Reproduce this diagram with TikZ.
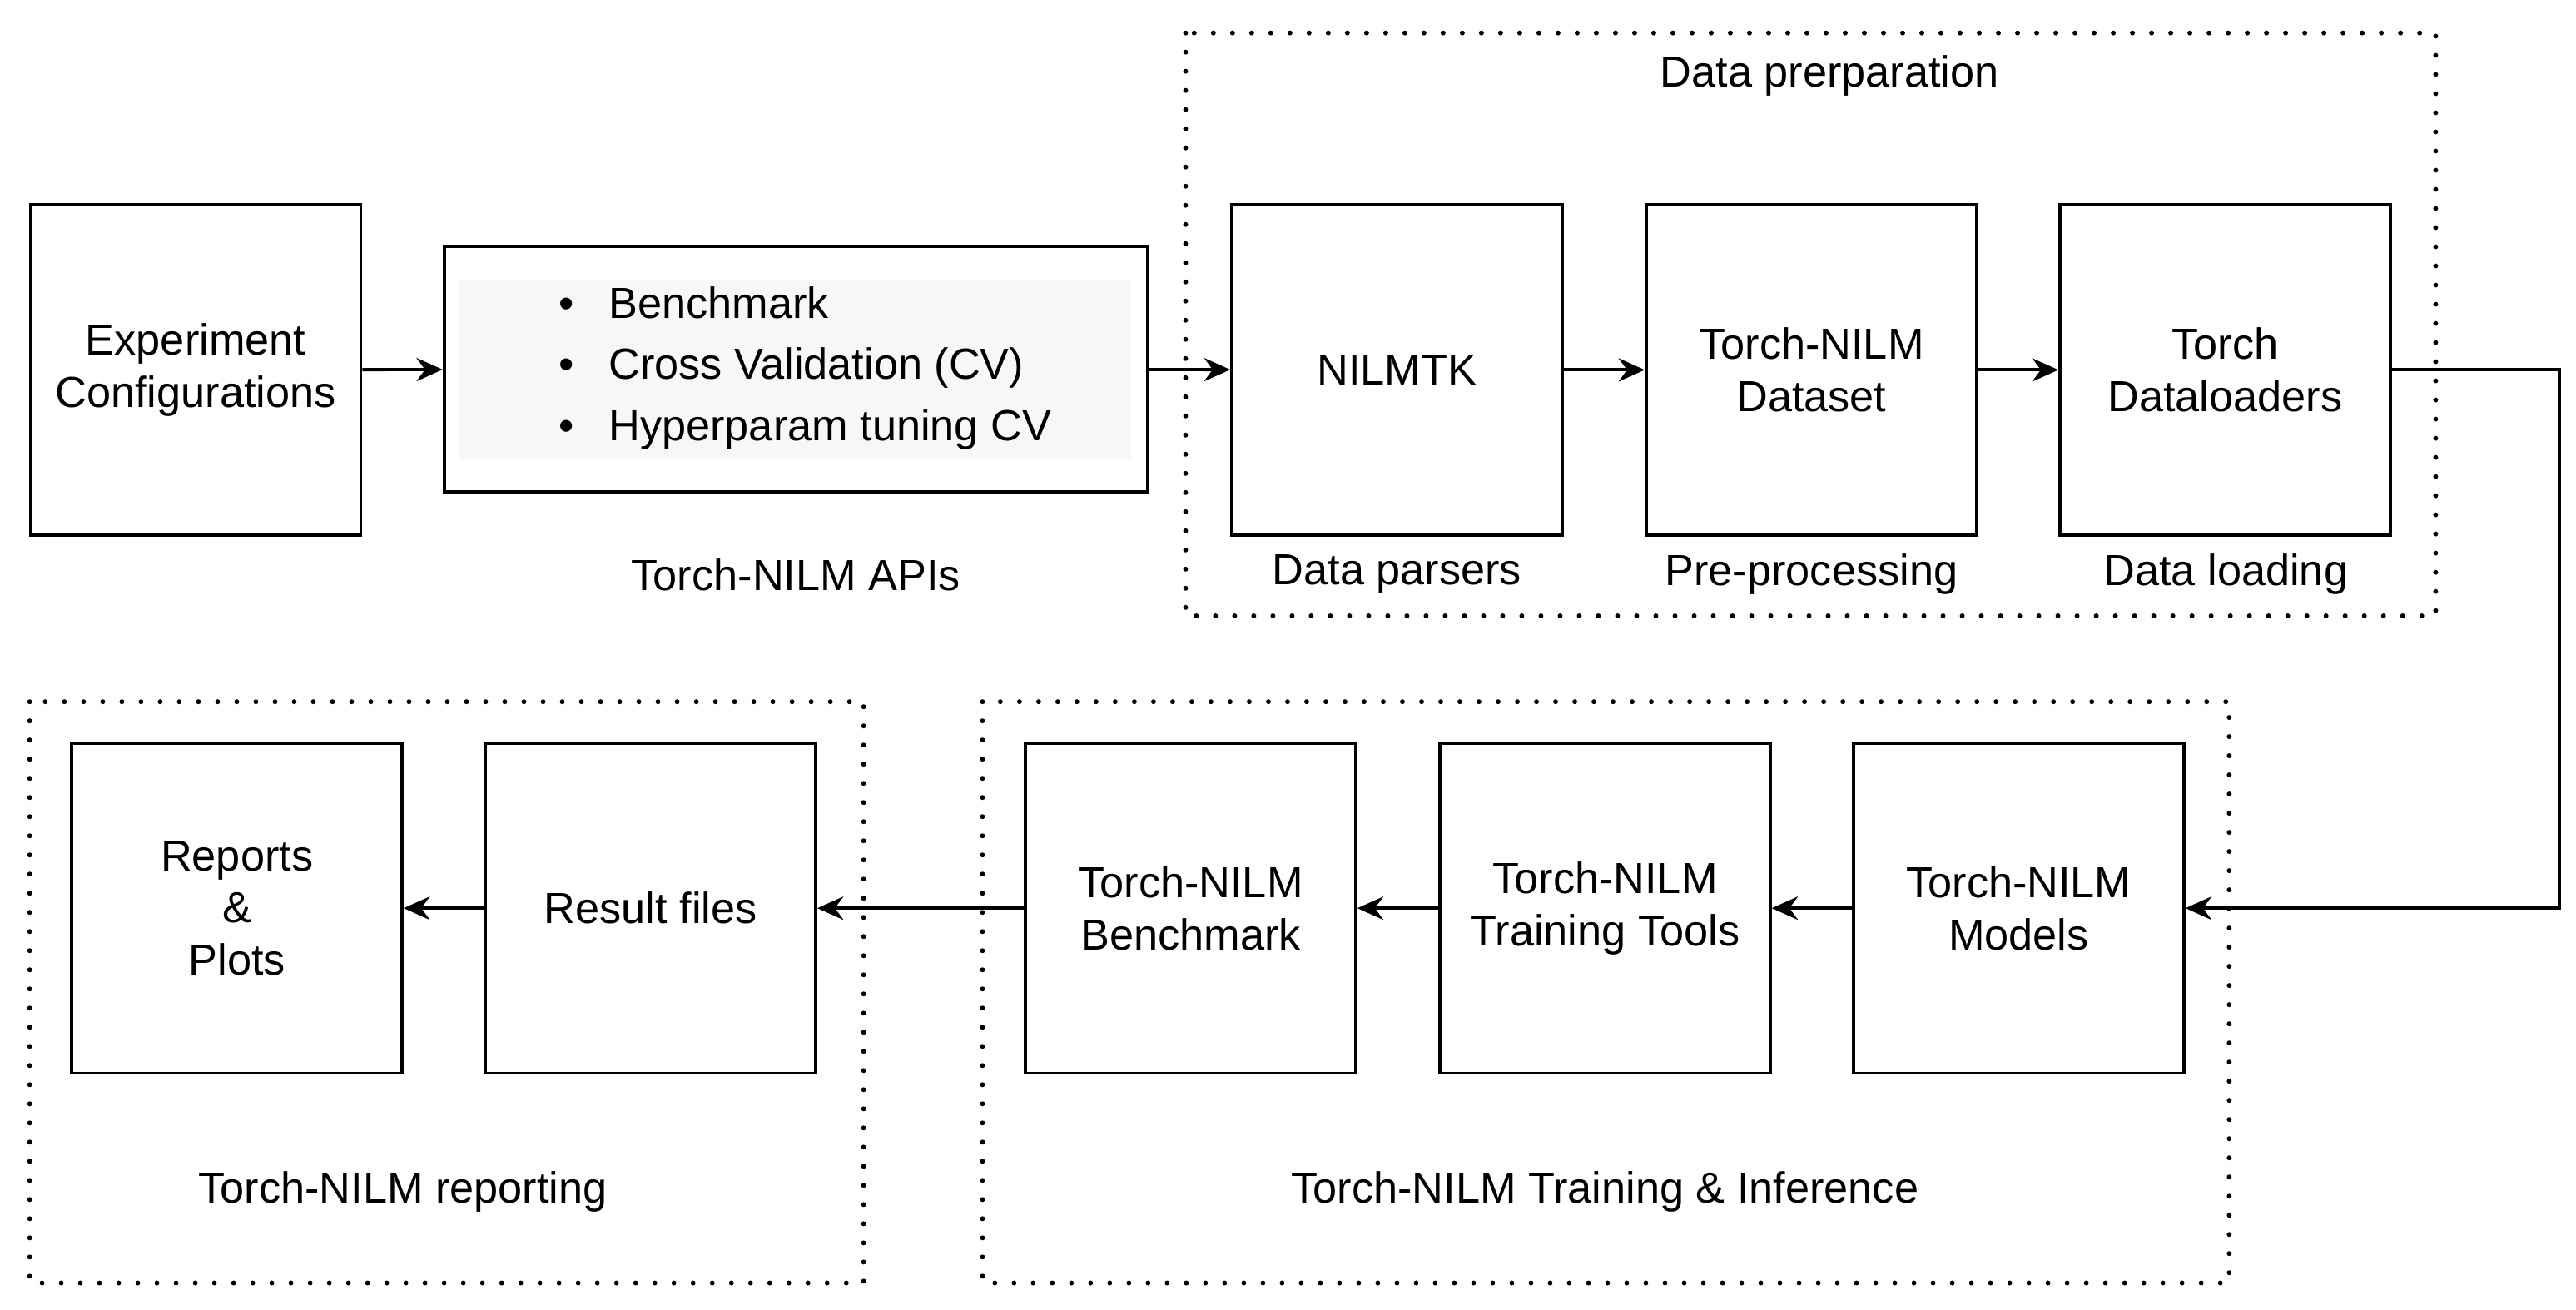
\documentclass[tikz,border=0pt]{standalone}
\usepackage{fontspec}
\setmainfont{Liberation Sans}
\usetikzlibrary{arrows.meta}
\begin{document}
\begin{tikzpicture}[x=0.02cm,y=-0.02cm,
  box/.style={draw,line width=1.1pt,minimum width=4cm,minimum height=4cm,align=center,inner sep=0pt,font=\fontsize{15}{18}\selectfont},
  lbl/.style={font=\fontsize{15}{18}\selectfont,inner sep=0pt},
  grp/.style={line width=1.7pt,line cap=round,dash pattern=on 0pt off 6.6pt},
  arr/.style={line width=1.1pt,-{Stealth[length=9pt,width=8pt]}}]
\useasboundingbox (0,0) rectangle (1560,793);
% groups
\draw[grp] (718,20) rectangle (1475,373);
\draw[grp] (18,425) rectangle (523,777);
\draw[grp] (595,425) rectangle (1350,777);
\node[lbl] (tprep) at (1108,46) {Data prerparation};
\node[lbl] (trep) at (244,722) {Torch-NILM reporting};
\node[lbl] (ttrain) at (972,722) {Torch-NILM Training \& Inference};
% top row
\node[box] (exp) at (118.5,224) {Experiment\\Configurations};
\node[box,minimum width=8.52cm,minimum height=2.98cm] (api) at (482,223.5) {};
\fill[gray!6] (278,170) rectangle (685,278);
\node[lbl,align=left,anchor=west] (apit) at (338,223) {%
\textbullet\hspace{0.8em}Benchmark\\[3pt]\textbullet\hspace{0.8em}Cross Validation (CV)\\[3pt]\textbullet\hspace{0.8em}Hyperparam tuning CV};
\node[lbl] (apil) at (482,348) {Torch-NILM APIs};
\node[box] (nil) at (846,224) {NILMTK};
\node[box] (ds) at (1097,224) {Torch-NILM\\Dataset};
\node[box] (dl) at (1347.5,224) {Torch\\Dataloaders};
\node[lbl] (l1) at (846,348) {Data parsers};
\node[lbl] (l2) at (1097,348) {Pre-processing};
\node[lbl] (l3) at (1348,348) {Data loading};
% bottom row
\node[box] (rp) at (143.5,550) {Reports\\\&\\Plots};
\node[box] (rf) at (394,550) {Result files};
\node[box] (bm) at (721,550) {Torch-NILM\\Benchmark};
\node[box] (tt) at (972,550) {Torch-NILM\\Training Tools};
\node[box] (md) at (1222.5,550) {Torch-NILM\\Models};
\coordinate (c1) at (1550,224);
\coordinate (c2) at (1550,550);
% arrows
\draw[arr] (exp) -- (api);
\draw[arr] (api) -- (nil);
\draw[arr] (nil) -- (ds);
\draw[arr] (ds) -- (dl);
\draw[arr] (dl.east) -- (c1) -- (c2) -- (md.east);
\draw[arr] (md) -- (tt);
\draw[arr] (tt) -- (bm);
\draw[arr] (bm) -- (rf);
\draw[arr] (rf) -- (rp);
\end{tikzpicture}
\end{document}
